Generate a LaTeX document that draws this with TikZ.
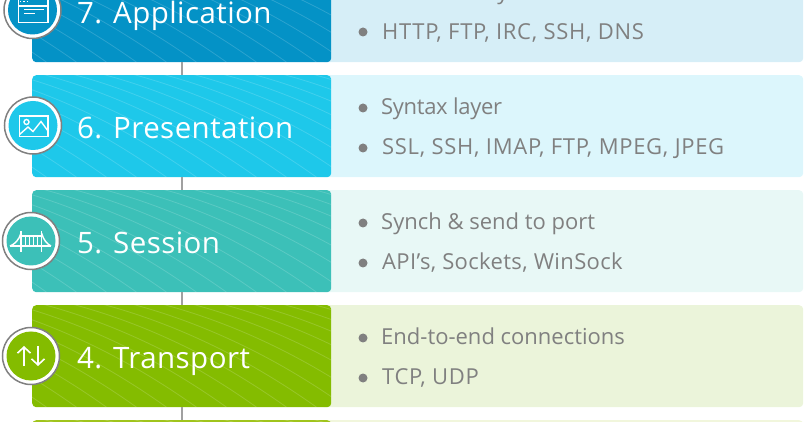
\documentclass[tikz,border=0pt]{standalone}
\usepackage{fontspec}
\setmainfont{Open Sans}
\usetikzlibrary{arrows.meta}
\definecolor{appdark}{HTML}{0492C6}
\definecolor{applight}{HTML}{D6EEF7}
\definecolor{presdark}{HTML}{1EC8EA}
\definecolor{preslight}{HTML}{DCF6FC}
\definecolor{sessdark}{HTML}{3CC0B8}
\definecolor{sesslight}{HTML}{E8F8F6}
\definecolor{transdark}{HTML}{84BC00}
\definecolor{translight}{HTML}{EBF4DA}
\definecolor{netdark}{HTML}{A0C41C}
\definecolor{netlight}{HTML}{F1F6DC}
\definecolor{linegray}{HTML}{A0A0A0}
\definecolor{ringgray}{HTML}{808080}
\definecolor{textgray}{HTML}{808080}
\tikzset{
  darkbar/.style={anchor=north west, inner sep=0pt, minimum width=299pt, minimum height=102pt, rounded corners=4pt},
  lightbar/.style={anchor=north west, inner sep=0pt, minimum width=483pt, minimum height=102pt, rounded corners=4pt},
  title/.style={anchor=base west, inner sep=0pt, text=white, font=\fontsize{29.5}{30}\selectfont\addfontfeature{LetterSpace=1.5}},
  itemtext/.style={anchor=base west, inner sep=0pt, text=textgray, font=\fontsize{22}{24}\selectfont},
  itemcaps/.style={itemtext, font=\fontsize{22}{24}\selectfont\addfontfeature{LetterSpace=3.2}},
  itemmixed/.style={itemtext, font=\fontsize{22}{24}\selectfont\addfontfeature{LetterSpace=1.6}},
  itemtight/.style={itemtext, font=\fontsize{22}{24}\selectfont\addfontfeature{LetterSpace=-1.5}},
  itemdot/.style={circle, fill=textgray, inner sep=0pt, minimum size=9pt},
  iconring/.style={circle, fill=white, draw=ringgray, line width=1.5pt, inner sep=0pt, minimum size=57pt},
  iconfill/.style={circle, inner sep=0pt, minimum size=49pt},
  iconline/.style={white, line width=1.4pt}
}
\begin{document}
\begin{tikzpicture}[x=1pt,y=-1pt]
  \useasboundingbox (0,0) rectangle (804,422);
  \clip (0,0) rectangle (804,422);
  % the bars, top to bottom
  \foreach \nm/\ytop/\dk/\lt in {app/-40/appdark/applight, pres/75/presdark/preslight, sess/190/sessdark/sesslight, trans/305/transdark/translight, net/420/netdark/netlight}{
    \node[lightbar, fill=\lt] (\nm light) at (320,\ytop) {};
    \node[darkbar, fill=\dk] (\nm) at (32,\ytop) {};
    \begin{scope}
      \clip[rounded corners=4pt] (32,\ytop) rectangle (331,\ytop+102);
      \foreach \o in {-300,-270,...,320}{
        \draw[white, opacity=0.16, line width=0.8pt] (\o,\ytop-4) .. controls (\o+90,\ytop+18) and (\o+170,\ytop+60) .. (\o+240,\ytop+112);
      }
    \end{scope}
  }
  % lines between the bars
  \draw[linegray, line width=1.8pt] (app) -- (pres);
  \draw[linegray, line width=1.8pt] (pres) -- (sess);
  \draw[linegray, line width=1.8pt] (sess) -- (trans);
  \draw[linegray, line width=1.8pt] (trans) -- (net);
  % titles
  \node[title] (apptitle) at (77,23.5) {7. Application};
  \node[title] (prestitle) at (77,138.5) {6. Presentation};
  \node[title] (sesstitle) at (77,253.5) {5. Session};
  \node[title] (transtitle) at (77,368.5) {4. Transport};
  % list items
  \node[itemdot] (appdotb) at (363,32) {};
  \node[itemcaps] (appitemb) at (382,39.5) {HTTP, FTP, IRC, SSH, DNS};
  \node[itemtext] (appitema) at (381,-0.5) {End User layer};
  \node[itemdot] (presdota) at (363,108) {};
  \node[itemtight] (presitema) at (381,114.5) {Syntax layer};
  \node[itemdot] (presdotb) at (363,148) {};
  \node[itemcaps] (presitemb) at (382,154.5) {SSL, SSH, IMAP, FTP, MPEG, JPEG};
  \node[itemdot] (sessdota) at (363,223) {};
  \node[itemtext] (sessitema) at (381,229.5) {Synch \& send to port};
  \node[itemdot] (sessdotb) at (363,263) {};
  \node[itemmixed] (sessitemb) at (382,269.5) {API’s, Sockets, WinSock};
  \node[itemdot] (transdota) at (363,338) {};
  \node[itemtext] (transitema) at (381,344.5) {End-to-end connections};
  \node[itemdot] (transdotb) at (363,378) {};
  \node[itemcaps] (transitemb) at (382,384.5) {TCP, UDP};
  % round icons
  \node[iconring] (appring) at (32.5,10) {};
  \node[iconfill, fill=appdark] (appicon) at (32.5,10) {};
  \node[iconring] (presring) at (33,125.5) {};
  \node[iconfill, fill=presdark] (presicon) at (33,125.5) {};
  \node[iconring] (sessring) at (31,241) {};
  \node[iconfill, fill=sessdark] (sessicon) at (31,241) {};
  \node[iconring] (transring) at (31,356) {};
  \node[iconfill, fill=transdark] (transicon) at (31,356) {};
  % window
  \draw[iconline] (18.5,-7) rectangle (48,22.5);
  \draw[iconline] (18.5,6) -- (48,6);
  \draw[iconline] (24,9.5) -- (43.5,9.5);
  \draw[iconline] (24,13.5) -- (35,13.5);
  \draw[iconline, dotted] (20,1.5) -- (30,1.5);
  % picture
  \draw[iconline] (19.5,116) rectangle (48,136.5);
  \draw[iconline] (26.5,122) circle (2.5);
  \draw[iconline] (19.5,134.5) -- (28,127) -- (33,131.5) -- (41,121.5) -- (48,131);
  % bridge
  \draw[iconline] (10,246) -- (51,246);
  \draw[iconline] (21,231) -- (21,252);
  \draw[iconline] (41.5,231) -- (41.5,252);
  \draw[iconline] (21,236) -- (41.5,236);
  \draw[iconline] (10,246) .. controls (15,244) and (19,240) .. (21,233);
  \draw[iconline] (51,246) .. controls (47,244) and (43.5,240) .. (41.5,233);
  \foreach \x in {25,29,33,37}{
    \draw[iconline, line width=1pt] (\x,236) -- (\x,246);
  }
  % arrows
  \draw[iconline, line width=1.6pt, -{Straight Barb[length=6pt,width=13pt]}] (24,366) -- (24,346);
  \draw[iconline, line width=1.6pt, -{Straight Barb[length=6pt,width=13pt]}] (38,346) -- (38,366);
\end{tikzpicture}
\end{document}
